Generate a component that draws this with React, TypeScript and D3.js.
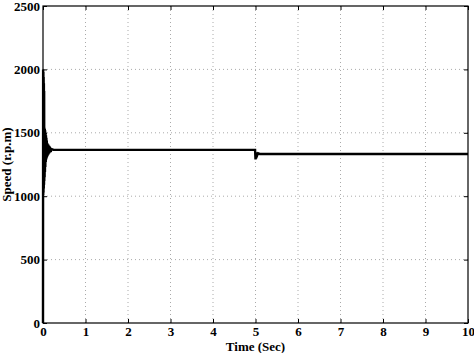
import React, { useEffect, useRef } from 'react'
import * as d3 from 'd3'

// speed response (time in seconds, speed in r.p.m)
const startTimes = [0, 0.003, 0.006, 0.009, 0.012, 0.015, 0.018, 0.021, 0.024, 0.027, 0.03, 0.034, 0.038, 0.042, 0.046, 0.05, 0.055, 0.06, 0.065, 0.07, 0.075, 0.08, 0.085, 0.09, 0.095, 0.1, 0.11, 0.12, 0.13, 0.14, 0.15, 0.16, 0.18, 0.2, 0.25]
const startSpeeds = [0, 2000, 1010, 1980, 1030, 1940, 1060, 1890, 1090, 1830, 1120, 1540, 1150, 1530, 1190, 1520, 1230, 1500, 1270, 1480, 1290, 1460, 1300, 1440, 1310, 1420, 1320, 1410, 1330, 1400, 1340, 1390, 1350, 1372, 1365]
const stepTimes = [1, 2, 3, 4, 4.99, 5.0, 5.01, 5.02, 5.04, 5.06, 5.1, 6, 7, 8, 9, 10]
const stepSpeeds = [1365, 1365, 1365, 1365, 1365, 1290, 1320, 1345, 1322, 1338, 1333, 1333, 1333, 1333, 1333, 1333]

const xTicks = [0, 1, 2, 3, 4, 5, 6, 7, 8, 9, 10]
const yTicks = [0, 500, 1000, 1500, 2000, 2500]

const W = 474
const H = 353
const margin = { left: 43, right: 6, top: 6, bottom: 30 }

export default function App() {
  const svgRef = useRef<SVGSVGElement>(null)

  useEffect(() => {
    const svg = d3.select(svgRef.current)
    svg.selectAll('*').remove()

    const x = d3.scaleLinear().domain([0, 10]).range([margin.left, W - margin.right])
    const y = d3.scaleLinear().domain([0, 2500]).range([H - margin.bottom, margin.top])

    const font = '"Liberation Serif", "Times New Roman", serif'

    // grid
    const grid = svg.append('g')
    grid.selectAll('.gx')
      .data(xTicks.slice(1, -1))
      .join('line')
      .attr('x1', d => x(d)).attr('x2', d => x(d))
      .attr('y1', y(0)).attr('y2', y(2500))
      .attr('stroke', '#aaa').attr('stroke-width', 1)
      .attr('stroke-dasharray', '1,3')
    grid.selectAll('.gy')
      .data(yTicks.slice(1, -1))
      .join('line')
      .attr('x1', x(0)).attr('x2', x(10))
      .attr('y1', d => y(d)).attr('y2', d => y(d))
      .attr('stroke', '#aaa').attr('stroke-width', 1)
      .attr('stroke-dasharray', '1,3')

    // box
    svg.append('rect')
      .attr('x', x(0)).attr('y', y(2500))
      .attr('width', x(10) - x(0)).attr('height', y(0) - y(2500))
      .attr('fill', 'none').attr('stroke', '#000').attr('stroke-width', 1.2)

    // inward ticks on all sides
    const xAxis = d3.axisBottom(x).tickValues(xTicks).tickFormat(d3.format('d')).tickSizeInner(-4).tickSizeOuter(0).tickPadding(4)
    const gx = svg.append('g').attr('transform', `translate(0,${y(0)})`).call(xAxis)
    const yAxis = d3.axisLeft(y).tickValues(yTicks).tickFormat(d3.format('d')).tickSizeInner(-4).tickSizeOuter(0).tickPadding(3)
    const gy = svg.append('g').attr('transform', `translate(${x(0)},0)`).call(yAxis)
    svg.append('g').attr('transform', `translate(0,${y(2500)})`)
      .call(d3.axisTop(x).tickValues(xTicks).tickSizeInner(-4).tickSizeOuter(0).tickFormat(() => ''))
    svg.append('g').attr('transform', `translate(${x(10)},0)`)
      .call(d3.axisRight(y).tickValues(yTicks).tickSizeInner(-4).tickSizeOuter(0).tickFormat(() => ''))
    svg.selectAll('.domain').remove()
    svg.selectAll('.tick line').attr('stroke', '#000')

    for (const g of [gx, gy]) {
      g.selectAll('text')
        .attr('font-family', font)
        .attr('font-weight', 'bold')
        .attr('font-size', 13)
        .attr('fill', '#000')
    }

    // speed trace
    const times = startTimes.concat(stepTimes)
    const speeds = startSpeeds.concat(stepSpeeds)
    const pts = times.map((t, i) => [t, speeds[i]] as [number, number])
    const line = d3.line<[number, number]>()
      .x(d => x(d[0]))
      .y(d => y(d[1]))
    svg.append('path')
      .attr('d', line(pts))
      .attr('fill', 'none')
      .attr('stroke', '#000')
      .attr('stroke-width', 2.4)
      .attr('stroke-linejoin', 'miter')

    // axis titles
    svg.append('text')
      .attr('x', x(5)).attr('y', 351)
      .attr('text-anchor', 'middle')
      .attr('font-family', font).attr('font-weight', 'bold').attr('font-size', 13)
      .text('Time (Sec)')
    svg.append('text')
      .attr('transform', `translate(11,${y(1250)}) rotate(-90)`)
      .attr('text-anchor', 'middle')
      .attr('font-family', font).attr('font-weight', 'bold').attr('font-size', 13)
      .text('Speed (r.p.m)')
  }, [])

  return (
    <svg ref={svgRef} width={W} height={H}
      style={{ position: 'absolute', left: 0, top: 0, background: '#fff' }} />
  )
}
